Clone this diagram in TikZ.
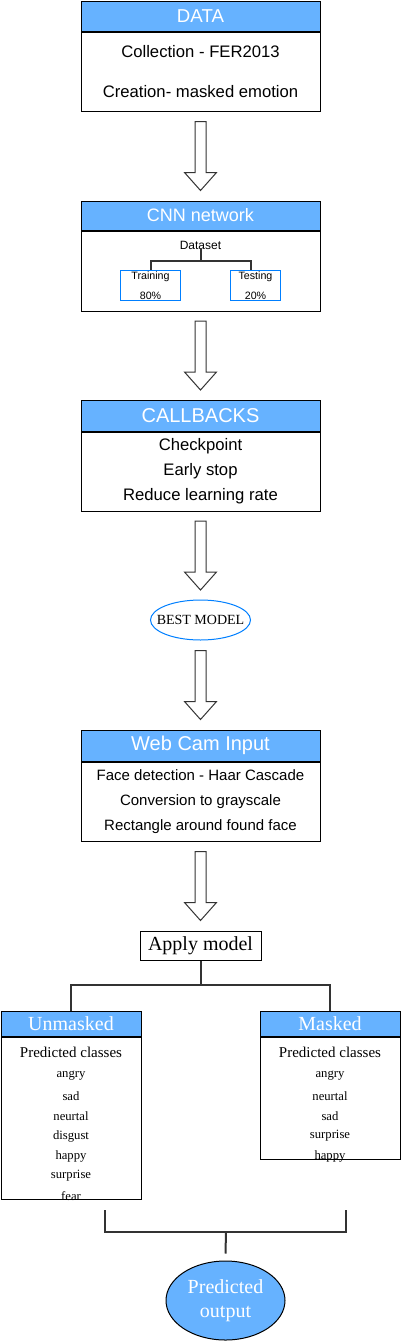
\documentclass[tikz,border=0pt]{standalone}
\usepackage{fontspec}
\setmainfont{Liberation Serif}
\setsansfont{Liberation Sans}
\usetikzlibrary{shapes.geometric,calc}
\definecolor{headblue}{HTML}{66B2FF}
\definecolor{lineblue}{HTML}{007FFF}
\definecolor{dark}{HTML}{333333}
\newcommand{\fsz}[2]{\fontsize{#1}{#2}\selectfont}

\begin{document}
\begin{tikzpicture}[x=0.75pt,y=-0.75pt]
		\tikzstyle{head} = [draw, fill=headblue, text=white, font=\sffamily\fsz{15}{18}, minimum width=179.25pt, inner sep=0pt, line width=0.75pt]
		\tikzstyle{body} = [draw, fill=white, anchor=north, minimum width=179.25pt, inner sep=0pt, align=center, line width=0.75pt]
		\tikzstyle{small box} = [draw=lineblue, line width=0.75pt, align=center, inner sep=0pt, font=\sffamily\fsz{8}{15}, minimum height=22.5pt]
		\tikzstyle{tree} = [draw=dark, line width=1.5pt]
		\tikzstyle{block arrow} = [draw=dark, fill=white, line width=0.75pt]
		\tikzstyle{cls} = [font=\fsz{9.5}{11}, inner sep=0pt]
		\useasboundingbox (0,0) rectangle (402,1342);

		% data
		\node[head, minimum height=22.5pt, font=\sffamily\fsz{14}{16}] (data) at (200.5,16) {DATA};
		\node[body, minimum height=59.25pt, font=\sffamily\fsz{12.5}{30}] (databody) at (data.south) {Collection - FER2013\\Creation- masked emotion};

		% cnn
		\node[head, minimum height=21.75pt, font=\sffamily\fsz{13.5}{16}] (cnn) at (200.5,215.5) {CNN network};
		\node[body, minimum height=60pt] (cnnbody) at (cnn.south) {};
		\node[font=\sffamily\fsz{9}{11}, inner sep=0pt] (dataset) at (200.5,245) {Dataset};
		\node[small box, minimum width=45pt] (train) at (150.5,285.5) {Training\\80\%};
		\node[small box, minimum width=37.5pt] (test) at (255.5,285.5) {Testing\\20\%};
		\coordinate (split) at (200.5,260.5);
		\draw[tree] (dataset.south) -- (split) -| (train.north);
		\draw[tree] (split) -| ([xshift=15.4pt]test.north west);

		% callbacks
		\node[head, minimum height=23.25pt] (cb) at (200.5,415.5) {CALLBACKS};
		\node[body, minimum height=59.25pt, font=\sffamily\fsz{12.5}{18.75}] (cbbody) at (cb.south) {Checkpoint\\Early stop\\Reduce learning rate};

		% best model
		\node[ellipse, draw=lineblue, line width=0.75pt, minimum width=75pt, minimum height=30pt, inner ysep=0pt, inner xsep=-6.5pt, font=\fsz{10.5}{12}] (best) at (200.5,620) {BEST MODEL};

		% web cam
		\node[head, minimum height=23.25pt] (cam) at (200.5,745.5) {Web Cam Input};
		\node[body, minimum height=59.25pt, font=\sffamily\fsz{11.25}{18.75}] (cambody) at (cam.south) {Face detection - Haar Cascade\\Conversion to grayscale\\Rectangle around found face};

		% apply model
		\node[draw, line width=0.75pt, minimum width=90.75pt, minimum height=21.75pt, inner sep=0pt, font=\fsz{15}{18}] (apply) at (200.5,945.5) {Apply model};

		% block arrows
		\foreach \a/\b in {databody.south/cnn.north, cnnbody.south/cb.north, cbbody.south/best.north, best.south/cam.north, cambody.south/apply.north}
			\draw[block arrow, shift={($(\a)!0.5!(\b)$)}] (-5.5,-34.5) -- (5.5,-34.5) -- (5.5,16.5) -- (16,16.5) -- (0,34.5) -- (-16,16.5) -- (-5.5,16.5) -- cycle;

		% unmasked / masked
		\node[head, minimum width=105pt, minimum height=18.75pt, font=\fsz{15}{18}] (un) at (71,1023.5) {Unmasked};
		\node[body, minimum width=105pt, minimum height=121.5pt] (unbody) at (un.south) {};
		\node[head, minimum width=105pt, minimum height=18.75pt, font=\fsz{15}{18}] (ma) at (330,1023.5) {Masked};
		\node[body, minimum width=105pt, minimum height=91.5pt] (mabody) at (ma.south) {};
		\coordinate (fork) at (200.5,985);
		\draw[tree] (apply.south) -- (fork);
		\draw[tree] (un.north) |- (fork) -| (ma.north);

		\node[font=\fsz{11.25}{13}, inner sep=0pt] (unlist) at (71,1052) {Predicted classes};
		\foreach \w [count=\i] in {angry,sad,neurtal,disgust,happy,surprise,fear}
			\node[cls] (un\i) at (71,{1056+20*\i}) {\w};
		\node[font=\fsz{11.25}{13}, inner sep=0pt] (malist) at (330,1052) {Predicted classes};
		\foreach \w [count=\i] in {angry,neurtal,sad,surprise,happy}
			\node[cls] (ma\i) at (330,{1056+20*\i}) {\w};

		% output
		\node[ellipse, draw, line width=0.75pt, fill=headblue, text=white, minimum width=89.25pt, minimum height=59.25pt, inner sep=0pt, align=center, font=\fsz{15}{18}] (out) at (225.5,1300.5) {Predicted\\output};
		\coordinate (joinL) at (105,1210);
		\coordinate (joinR) at (346,1210);
		\coordinate (joinM) at (226,1232);
		\draw[tree] (joinL) -- ++(0,22) -| (joinR);
		\draw[tree] (joinM) -- ([yshift=5.25pt]out.north);
	\end{tikzpicture}
\end{document}
